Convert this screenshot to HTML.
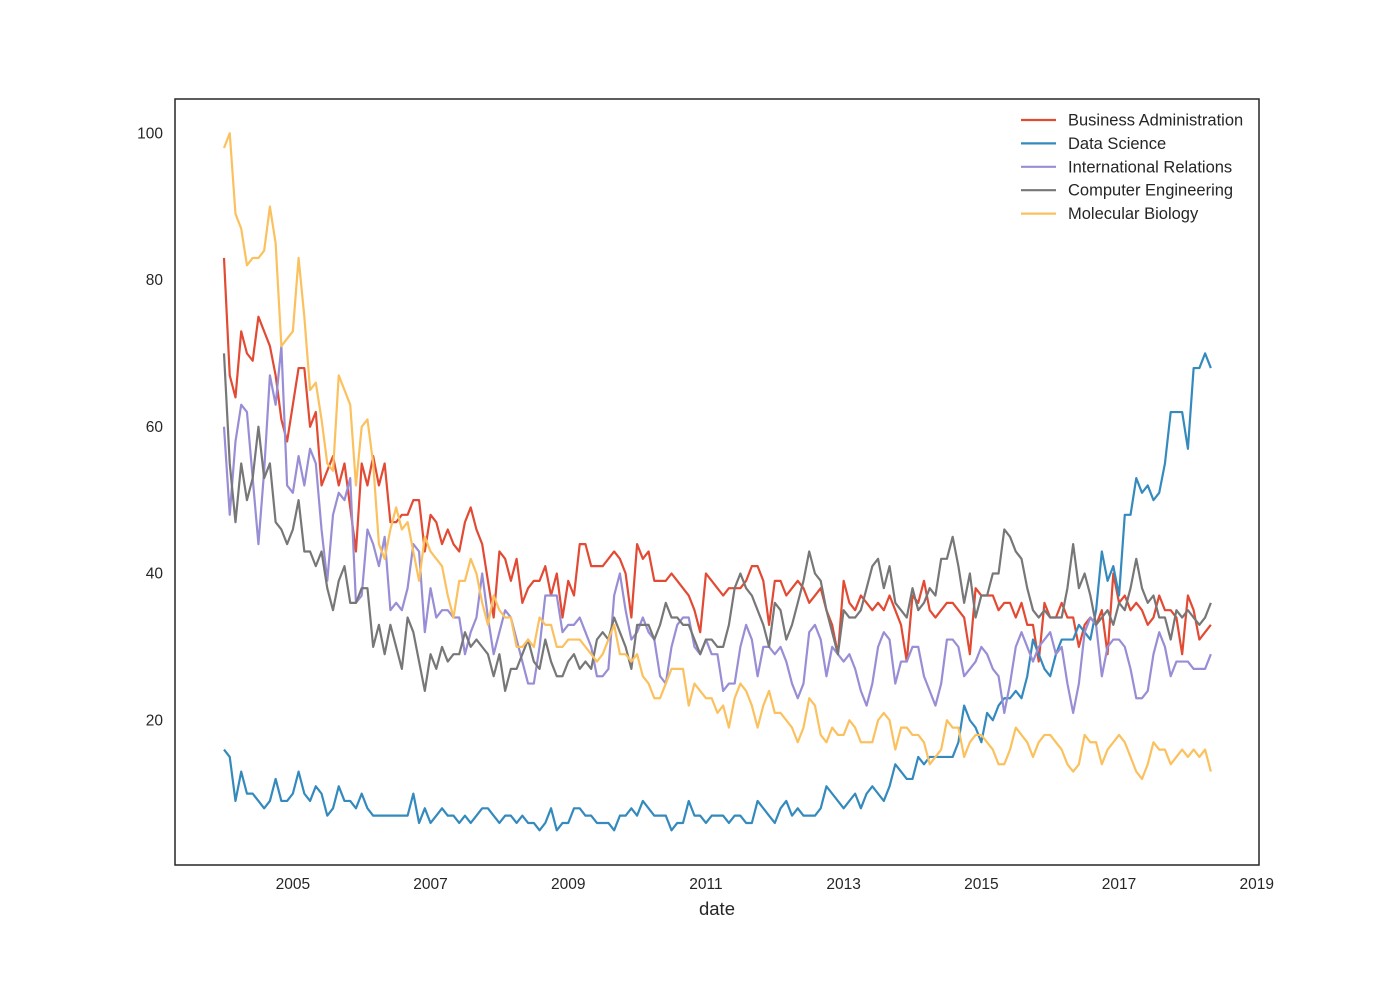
<!DOCTYPE html>
<html><head><meta charset="utf-8"><style>
body{margin:0;background:#fff;}
svg{display:block;font-family:"Liberation Sans",sans-serif;}
</style></head><body>
<svg id="chart" width="1400" height="990">
<rect x="175" y="99" width="1084" height="766" fill="#fff" stroke="#262626" stroke-width="1.5"/>
<g id="xticks"></g>
<g id="yticks"></g>
<g id="lines"></g>
<text x="717" y="915" font-size="18.5" text-anchor="middle" fill="#262626">date</text>
<g id="legend"></g>
</svg>
<script>
const seriesNames = ["Business Administration","Data Science","International Relations","Computer Engineering","Molecular Biology"];
const seriesColors = ["#E24A33","#348ABD","#988ED5","#777777","#FBC15E"];
const startYear = 2004;
const xTickLabels = [2005,2007,2009,2011,2013,2015,2017,2019];
const yTickLabels = [20,40,60,80,100];
const businessAdmin = [83,67,64,73,70,69,75,73,71,67,61,58, 63,68,68,60,62,52,54,56,52,55,49,43, 55,52,56,52,55,47,47,48,48,50,50,43, 48,47,44,46,44,43,47,49,46,44,39,34, 43,42,39,42,36,38,39,39,41,37,40,34, 39,37,44,44,41,41,41,42,43,42,40,34, 44,42,43,39,39,39,40,39,38,37,35,32, 40,39,38,37,38,38,38,39,41,41,39,33, 39,39,37,38,39,38,36,37,38,35,33,29, 39,36,35,37,36,35,36,35,37,35,33,28, 37,36,39,35,34,35,36,36,35,34,29,38, 37,37,37,35,36,36,34,36,33,33,28,36, 34,34,36,34,34,30,33,34,33,35,29,40, 36,37,35,36,35,33,34,37,35,35,34,29, 37,35,31,32,33];
const dataScience = [16,15,9,13,10,10,9,8,9,12,9,9, 10,13,10,9,11,10,7,8,11,9,9,8, 10,8,7,7,7,7,7,7,7,10,6,8, 6,7,8,7,7,6,7,6,7,8,8,7, 6,7,7,6,7,6,6,5,6,8,5,6, 6,8,8,7,7,6,6,6,5,7,7,8, 7,9,8,7,7,7,5,6,6,9,7,7, 6,7,7,7,6,7,7,6,6,9,8,7, 6,8,9,7,8,7,7,7,8,11,10,9, 8,9,10,8,10,11,10,9,11,14,13,12, 12,15,14,15,15,15,15,15,17,22,20,19, 17,21,20,22,23,23,24,23,26,31,29,27, 26,29,31,31,31,33,32,31,35,43,39,41, 37,48,48,53,51,52,50,51,55,62,62,62, 57,68,68,70,68];
const intlRelations = [60,48,58,63,62,53,44,54,67,63,71,52, 51,56,52,57,55,46,39,48,51,50,53,36, 37,46,44,41,45,35,36,35,38,44,43,32, 38,34,35,35,34,34,29,32,34,40,34,29, 32,35,34,31,28,25,25,30,37,37,37,32, 33,33,34,32,30,26,26,27,37,40,35,31, 32,34,32,31,26,25,30,33,34,34,30,29, 31,29,29,24,25,25,30,33,31,26,30,30, 29,30,28,25,23,25,32,33,31,26,30,29, 28,29,27,24,22,25,30,32,31,25,28,28, 30,30,26,24,22,25,31,31,30,26,27,28, 30,29,27,26,21,25,30,32,30,28,30,31, 32,29,30,25,21,25,32,34,33,26,30,31, 31,30,27,23,23,24,29,32,30,26,28,28, 28,27,27,27,29];
const compEng = [70,55,47,55,50,53,60,53,55,47,46,44, 46,50,43,43,41,43,38,35,39,41,36,36, 38,38,30,33,29,33,30,27,34,32,28,24, 29,27,30,28,29,29,32,30,31,30,29,26, 29,24,27,27,29,31,28,27,31,28,26,26, 28,29,27,28,27,31,32,31,34,32,30,27, 33,33,33,31,33,36,34,34,33,33,31,29, 31,31,30,30,33,38,40,38,37,35,33,30, 36,35,31,33,36,39,43,40,39,35,32,29, 35,34,34,35,38,41,42,38,41,36,35,34, 38,35,36,38,37,42,42,45,41,36,40,34, 37,37,40,40,46,45,43,42,38,35,34,35, 34,34,34,38,44,38,40,37,33,34,35,33, 36,35,38,42,38,36,37,34,34,31,35,34, 35,34,33,34,36];
const molBio = [98,100,89,87,82,83,83,84,90,85,71,72, 73,83,75,65,66,61,55,54,67,65,63,52, 60,61,55,44,42,46,49,46,47,43,39,45, 43,42,41,37,34,39,39,42,40,36,33,37, 35,34,34,30,30,31,30,34,33,33,30,30, 31,31,31,30,29,28,29,31,33,29,29,28, 29,26,25,23,23,25,27,27,27,22,25,24, 23,23,21,22,19,23,25,24,22,19,22,24, 21,21,20,19,17,19,23,22,18,17,19,18, 18,20,19,17,17,17,20,21,20,16,19,19, 18,18,17,14,15,16,20,19,19,15,17,18, 18,17,16,14,14,16,19,18,17,15,17,18, 18,17,16,14,13,14,18,17,17,14,16,17, 18,17,15,13,12,14,17,16,16,14,15,16, 15,16,15,16,13];
const allSeries = [businessAdmin,dataScience,intlRelations,compEng,molBio];

const NS = "http://www.w3.org/2000/svg";
function xScale(yearFrac){ return 224 + (yearFrac - startYear) * 68.85; }
function yScale(v){ return 867 - v * 7.3375; }

const xg = document.getElementById('xticks');
xTickLabels.forEach(function(yr){
  const t = document.createElementNS(NS,'text');
  t.setAttribute('x', xScale(yr)); t.setAttribute('y', 889);
  t.setAttribute('font-size','15.5'); t.setAttribute('text-anchor','middle'); t.setAttribute('fill','#262626');
  
  
  t.textContent = yr; xg.appendChild(t);
});
const yg = document.getElementById('yticks');
yTickLabels.forEach(function(v){
  const t = document.createElementNS(NS,'text');
  t.setAttribute('x', 163); t.setAttribute('y', yScale(v) + 5);
  t.setAttribute('font-size','15.5'); t.setAttribute('text-anchor','end'); t.setAttribute('fill','#262626');
  
  
  t.textContent = v; yg.appendChild(t);
});
const lg = document.getElementById('lines');
allSeries.forEach(function(arr, s){
  const pts = arr.map(function(v,i){ return xScale(startYear + i/12).toFixed(2) + ',' + yScale(v).toFixed(2); }).join(' ');
  const p = document.createElementNS(NS,'polyline');
  p.setAttribute('points', pts); p.setAttribute('fill','none');
  p.setAttribute('stroke', seriesColors[s]); p.setAttribute('stroke-width','2.2');
  p.setAttribute('stroke-linejoin','round');
  
  
  lg.appendChild(p);
});
const leg = document.getElementById('legend');
seriesNames.forEach(function(n, s){
  const y = 120 + s * 23.4;
  const l = document.createElementNS(NS,'line');
  l.setAttribute('x1',1021); l.setAttribute('x2',1056); l.setAttribute('y1',y); l.setAttribute('y2',y);
  l.setAttribute('stroke', seriesColors[s]); l.setAttribute('stroke-width','2.2');
  
  
  leg.appendChild(l);
  const t = document.createElementNS(NS,'text');
  t.setAttribute('x',1068); t.setAttribute('y', y + 5.5);
  t.setAttribute('font-size','16.5'); t.setAttribute('fill','#262626');
  
  
  t.textContent = n; leg.appendChild(t);
});
</script>
</body></html>
